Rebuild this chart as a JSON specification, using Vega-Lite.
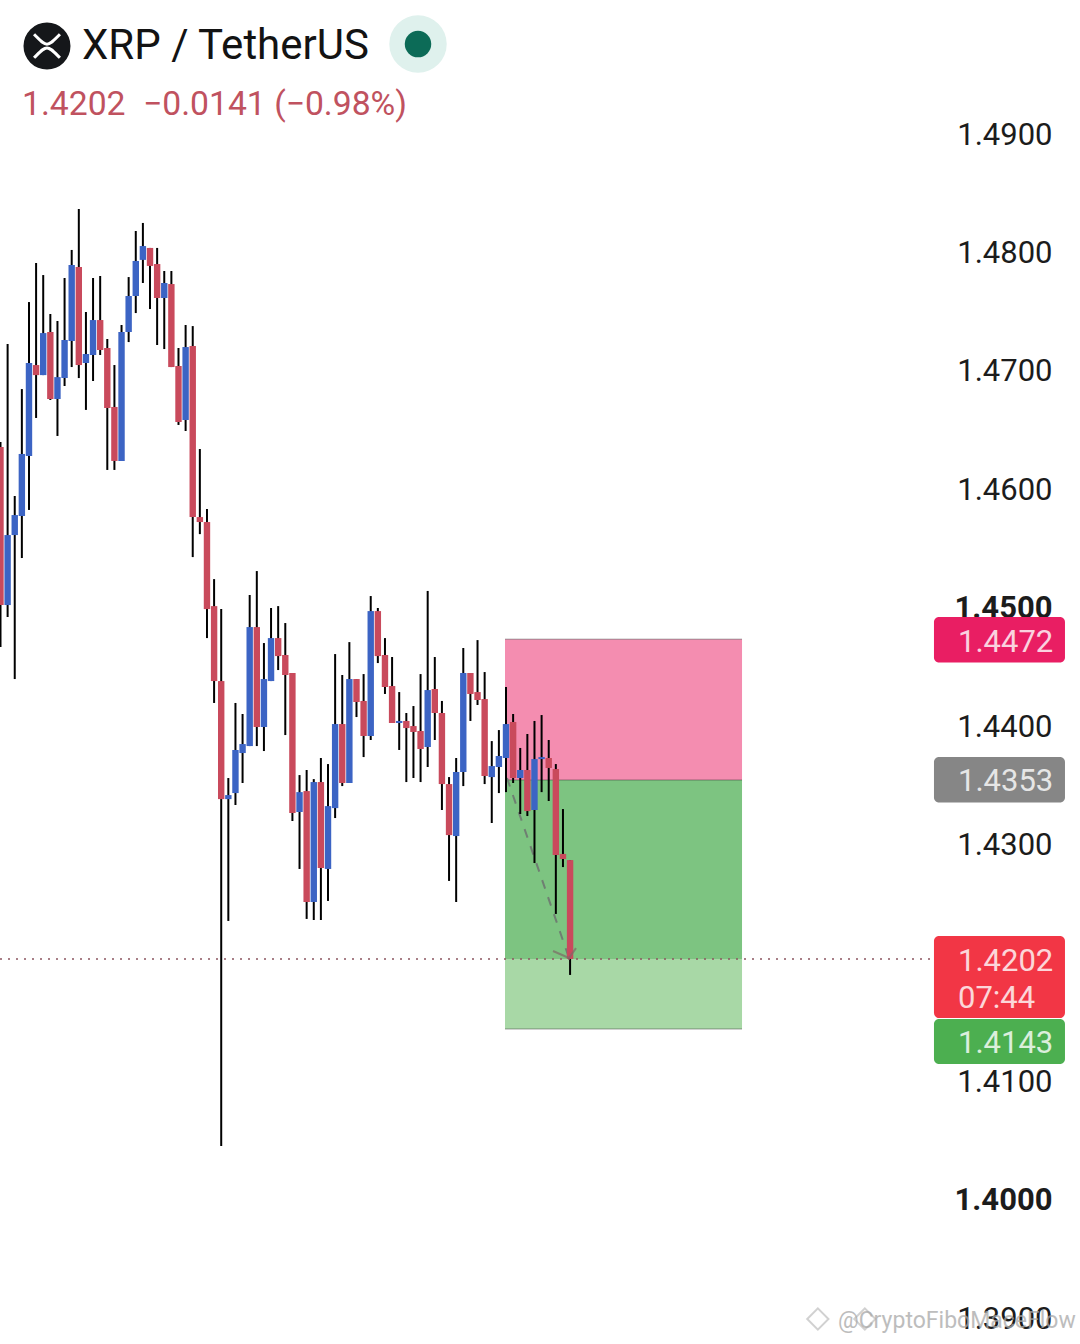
{
  "$schema": "https://vega.github.io/schema/vega-lite/v6.json",
  "background": "#ffffff",
  "width": 1080,
  "height": 1344,
  "padding": 0,
  "autosize": {"type": "none"},
  "datasets": {
    "candles": [
      {"i":0,"o":1.46357,"h":1.46399,"l":1.44667,"c":1.45022,"kind":"down"},
      {"i":1,"o":1.45022,"h":1.47226,"l":1.4492,"c":1.45613,"kind":"up"},
      {"i":2,"o":1.45613,"h":1.45943,"l":1.44397,"c":1.45782,"kind":"up"},
      {"i":3,"o":1.45774,"h":1.46846,"l":1.45419,"c":1.46298,"kind":"up"},
      {"i":4,"o":1.46281,"h":1.47581,"l":1.45825,"c":1.47066,"kind":"up"},
      {"i":5,"o":1.47049,"h":1.47911,"l":1.46602,"c":1.46964,"kind":"down"},
      {"i":6,"o":1.46964,"h":1.47809,"l":1.46964,"c":1.47319,"kind":"up"},
      {"i":7,"o":1.47328,"h":1.4748,"l":1.46754,"c":1.46762,"kind":"down"},
      {"i":8,"o":1.46762,"h":1.47421,"l":1.4645,"c":1.46947,"kind":"up"},
      {"i":9,"o":1.46939,"h":1.47784,"l":1.46872,"c":1.4726,"kind":"up"},
      {"i":10,"o":1.47252,"h":1.48021,"l":1.47032,"c":1.47894,"kind":"up"},
      {"i":11,"o":1.47877,"h":1.48367,"l":1.46939,"c":1.47049,"kind":"down"},
      {"i":12,"o":1.47066,"h":1.47497,"l":1.4667,"c":1.47142,"kind":"up"},
      {"i":13,"o":1.47134,"h":1.47784,"l":1.46914,"c":1.47429,"kind":"up"},
      {"i":14,"o":1.47429,"h":1.47801,"l":1.47134,"c":1.47176,"kind":"down"},
      {"i":15,"o":1.47193,"h":1.47269,"l":1.46163,"c":1.46686,"kind":"down"},
      {"i":16,"o":1.46695,"h":1.47049,"l":1.46163,"c":1.46239,"kind":"down"},
      {"i":17,"o":1.46239,"h":1.47387,"l":1.46239,"c":1.47328,"kind":"up"},
      {"i":18,"o":1.47328,"h":1.47792,"l":1.47243,"c":1.47632,"kind":"up"},
      {"i":19,"o":1.47632,"h":1.48181,"l":1.47488,"c":1.47928,"kind":"up"},
      {"i":20,"o":1.47937,"h":1.48249,"l":1.47742,"c":1.48054,"kind":"up"},
      {"i":21,"o":1.48038,"h":1.48038,"l":1.47522,"c":1.47886,"kind":"down"},
      {"i":22,"o":1.47902,"h":1.48038,"l":1.47218,"c":1.47615,"kind":"down"},
      {"i":23,"o":1.47615,"h":1.47843,"l":1.47184,"c":1.47742,"kind":"up"},
      {"i":24,"o":1.47733,"h":1.47843,"l":1.47032,"c":1.47032,"kind":"down"},
      {"i":25,"o":1.47041,"h":1.47193,"l":1.46543,"c":1.46568,"kind":"down"},
      {"i":26,"o":1.46585,"h":1.47387,"l":1.46492,"c":1.47201,"kind":"up"},
      {"i":27,"o":1.4721,"h":1.47378,"l":1.45427,"c":1.45765,"kind":"down"},
      {"i":28,"o":1.45765,"h":1.4634,"l":1.45621,"c":1.45723,"kind":"down"},
      {"i":29,"o":1.45723,"h":1.45833,"l":1.44743,"c":1.44988,"kind":"down"},
      {"i":30,"o":1.45013,"h":1.45241,"l":1.44195,"c":1.4438,"kind":"down"},
      {"i":31,"o":1.4438,"h":1.44988,"l":1.40453,"c":1.43383,"kind":"down"},
      {"i":32,"o":1.43383,"h":1.43561,"l":1.42354,"c":1.43417,"kind":"up"},
      {"i":33,"o":1.43434,"h":1.44195,"l":1.43333,"c":1.43798,"kind":"up"},
      {"i":34,"o":1.43772,"h":1.44102,"l":1.43519,"c":1.43848,"kind":"up"},
      {"i":35,"o":1.43831,"h":1.45107,"l":1.43831,"c":1.44836,"kind":"up"},
      {"i":36,"o":1.44836,"h":1.45309,"l":1.43831,"c":1.43992,"kind":"down"},
      {"i":37,"o":1.43992,"h":1.44701,"l":1.43789,"c":1.44397,"kind":"up"},
      {"i":38,"o":1.4438,"h":1.44997,"l":1.4438,"c":1.44743,"kind":"up"},
      {"i":39,"o":1.44743,"h":1.45013,"l":1.44473,"c":1.44591,"kind":"down"},
      {"i":40,"o":1.446,"h":1.4487,"l":1.43924,"c":1.44431,"kind":"down"},
      {"i":41,"o":1.44448,"h":1.44448,"l":1.43198,"c":1.43265,"kind":"down"},
      {"i":42,"o":1.43274,"h":1.43586,"l":1.42793,"c":1.43442,"kind":"up"},
      {"i":43,"o":1.43451,"h":1.43629,"l":1.42371,"c":1.42514,"kind":"down"},
      {"i":44,"o":1.42514,"h":1.43552,"l":1.42362,"c":1.43527,"kind":"up"},
      {"i":45,"o":1.43527,"h":1.4373,"l":1.42362,"c":1.42801,"kind":"down"},
      {"i":46,"o":1.42793,"h":1.43679,"l":1.42523,"c":1.43324,"kind":"up"},
      {"i":47,"o":1.43307,"h":1.44608,"l":1.43223,"c":1.44017,"kind":"up"},
      {"i":48,"o":1.44017,"h":1.44431,"l":1.43493,"c":1.43519,"kind":"down"},
      {"i":49,"o":1.43519,"h":1.44709,"l":1.43519,"c":1.44397,"kind":"up"},
      {"i":50,"o":1.44397,"h":1.44397,"l":1.44076,"c":1.44203,"kind":"down"},
      {"i":51,"o":1.44212,"h":1.44439,"l":1.43738,"c":1.43916,"kind":"down"},
      {"i":52,"o":1.43916,"h":1.45098,"l":1.43882,"c":1.44971,"kind":"up"},
      {"i":53,"o":1.44971,"h":1.44997,"l":1.44532,"c":1.44591,"kind":"down"},
      {"i":54,"o":1.446,"h":1.44743,"l":1.44271,"c":1.4433,"kind":"down"},
      {"i":55,"o":1.44338,"h":1.44583,"l":1.44026,"c":1.44026,"kind":"down"},
      {"i":56,"o":1.44026,"h":1.44287,"l":1.43798,"c":1.44043,"kind":"up"},
      {"i":57,"o":1.44043,"h":1.4411,"l":1.43527,"c":1.43983,"kind":"down"},
      {"i":58,"o":1.44,"h":1.44169,"l":1.43561,"c":1.4395,"kind":"down"},
      {"i":59,"o":1.43958,"h":1.44439,"l":1.43527,"c":1.43806,"kind":"down"},
      {"i":60,"o":1.43823,"h":1.45141,"l":1.43654,"c":1.44304,"kind":"up"},
      {"i":61,"o":1.44313,"h":1.44583,"l":1.43882,"c":1.4411,"kind":"down"},
      {"i":62,"o":1.4411,"h":1.44212,"l":1.43291,"c":1.4351,"kind":"down"},
      {"i":63,"o":1.4351,"h":1.43569,"l":1.42692,"c":1.43079,"kind":"down"},
      {"i":64,"o":1.43071,"h":1.4373,"l":1.42514,"c":1.43612,"kind":"up"},
      {"i":65,"o":1.43612,"h":1.44659,"l":1.43493,"c":1.44448,"kind":"up"},
      {"i":66,"o":1.44448,"h":1.44448,"l":1.44043,"c":1.44271,"kind":"down"},
      {"i":67,"o":1.44287,"h":1.44726,"l":1.44178,"c":1.4422,"kind":"down"},
      {"i":68,"o":1.44228,"h":1.44456,"l":1.4351,"c":1.43578,"kind":"down"},
      {"i":69,"o":1.43569,"h":1.43873,"l":1.43181,"c":1.43662,"kind":"up"},
      {"i":70,"o":1.43654,"h":1.43966,"l":1.43434,"c":1.43747,"kind":"up"},
      {"i":71,"o":1.4373,"h":1.4433,"l":1.43442,"c":1.44017,"kind":"up"},
      {"i":72,"o":1.44034,"h":1.44102,"l":1.43519,"c":1.43561,"kind":"down"},
      {"i":73,"o":1.43561,"h":1.43815,"l":1.43257,"c":1.43629,"kind":"up"},
      {"i":74,"o":1.43629,"h":1.43933,"l":1.4324,"c":1.43282,"kind":"down"},
      {"i":75,"o":1.43291,"h":1.44043,"l":1.42843,"c":1.43721,"kind":"up"},
      {"i":76,"o":1.43721,"h":1.44093,"l":1.43442,"c":1.43738,"kind":"up"},
      {"i":77,"o":1.4373,"h":1.43882,"l":1.43367,"c":1.43646,"kind":"down"},
      {"i":78,"o":1.43637,"h":1.43679,"l":1.42413,"c":1.42911,"kind":"down"},
      {"i":79,"o":1.4292,"h":1.43299,"l":1.42809,"c":1.42877,"kind":"down"},
      {"i":80,"o":1.42868,"h":1.42868,"l":1.41898,"c":1.42033,"kind":"down"}
    ],
    "zones": [
      {"i":70.86,"i2":104.15,"p":1.44734,"p2":1.43544,"kind":"risk"},
      {"i":70.86,"i2":104.15,"p":1.43544,"p2":1.42033,"kind":"reward"},
      {"i":70.86,"i2":104.15,"p":1.42033,"p2":1.41441,"kind":"rest"}
    ],
    "zonelines": [
      {"i":70.86,"i2":104.15,"p":1.44734},
      {"i":70.86,"i2":104.15,"p":1.43544},
      {"i":70.86,"i2":104.15,"p":1.41441}
    ],
    "tags": [
      {"i":131.11,"i2":149.51,"p":1.4492,"p2":1.44536,"kind":"entrytag"},
      {"i":131.11,"i2":149.51,"p":1.43738,"p2":1.43354,"kind":"greytag"},
      {"i":131.11,"i2":149.51,"p":1.42227,"p2":1.41534,"kind":"pricetag"},
      {"i":131.11,"i2":149.51,"p":1.41526,"p2":1.41145,"kind":"targettag"}
    ],
    "tagtext": [
      {"i":134.48,"p":1.44718,"label":"1.4472"},
      {"i":134.48,"p":1.43544,"label":"1.4353"},
      {"i":134.48,"p":1.42024,"label":"1.4202"},
      {"i":134.48,"p":1.41711,"label":"07:44"},
      {"i":134.48,"p":1.41331,"label":"1.4143"}
    ],
    "arrow": [
      {"i":71.14,"i2":79.85,"p":1.43561,"p2":1.42041}
    ],
    "arrowhead": [
      {"i":77.6,"i2":79.85,"p":1.421,"p2":1.42041},
      {"i":80.83,"i2":79.85,"p":1.42125,"p2":1.42041}
    ],
    "lastprice": [
      {"i":-0.07,"i2":130.83,"p":1.42033}
    ]
  },
  "encoding": {
    "color": {
      "field": "kind",
      "type": "nominal",
      "legend": null,
      "scale": {
        "domain": ["up","down","risk","reward","rest","entrytag","greytag","pricetag","targettag"],
        "range": ["#3c64c4","#c94a5c","#f48db0","#7dc481","#a8d8a6","#e91e63","#868686","#f23645","#4caf50"]
      }
    }
  },
  "layer": [
    {
      "data": {"name": "zones"},
      "mark": {"type": "rect"},
      "encoding": {
        "x": {"field": "i", "type": "quantitative", "axis": null, "scale": {"domain": [-0.07,151.62], "nice": false, "zero": false}},
        "x2": {"field": "i2"},
        "y": {
          "field": "p",
          "type": "quantitative",
          "scale": {"domain": [1.38781,1.50132], "nice": false, "zero": false},
          "axis": {
            "orient": "right",
            "title": null,
            "domain": false,
            "ticks": false,
            "grid": false,
            "values": [1.49,1.48,1.47,1.46,1.45,1.44,1.43,1.41,1.40,1.39],
            "format": ".4f",
            "labelFont": "Roboto",
            "labelFontSize": 31,
            "labelColor": "#1c1c1c",
            "labelAlign": "right",
            "labelPadding": -28,
            "labelOffset": 1,
            "labelOverlap": false,
            "labelBound": false,
            "labelFontWeight": {"condition": {"test": "datum.value == 1.45 || datum.value == 1.40", "value": "bold"}, "value": "normal"}
          }
        },
        "y2": {"field": "p2"}
      }
    },
    {
      "data": {"name": "zonelines"},
      "mark": {"type": "rule", "strokeWidth": 1.5, "opacity": 0.3},
      "encoding": {
        "color": {"value": "#303030"},
        "x": {"field": "i", "type": "quantitative", "axis": null, "scale": {"domain": [-0.07,151.62], "nice": false, "zero": false}},
        "x2": {"field": "i2"},
        "y": {"field": "p", "type": "quantitative", "scale": {"domain": [1.38781,1.50132], "nice": false, "zero": false}}
      }
    },
    {
      "data": {"name": "arrow"},
      "mark": {"type": "rule", "strokeWidth": 2, "strokeDash": [9,9]},
      "encoding": {
        "color": {"value": "#6f7f72"},
        "x": {"field": "i", "type": "quantitative", "axis": null, "scale": {"domain": [-0.07,151.62], "nice": false, "zero": false}},
        "x2": {"field": "i2"},
        "y": {"field": "p", "type": "quantitative", "scale": {"domain": [1.38781,1.50132], "nice": false, "zero": false}},
        "y2": {"field": "p2"}
      }
    },
    {
      "data": {"name": "candles"},
      "mark": {"type": "rule", "strokeWidth": 2},
      "encoding": {
        "color": {"value": "#000000"},
        "x": {"field": "i", "type": "quantitative", "axis": null, "scale": {"domain": [-0.07,151.62], "nice": false, "zero": false}},
        "y": {"field": "h", "type": "quantitative", "scale": {"domain": [1.38781,1.50132], "nice": false, "zero": false}},
        "y2": {"field": "l"}
      }
    },
    {
      "data": {"name": "candles"},
      "mark": {"type": "bar", "width": 6.4},
      "encoding": {
        "x": {"field": "i", "type": "quantitative", "axis": null, "scale": {"domain": [-0.07,151.62], "nice": false, "zero": false}},
        "y": {"field": "o", "type": "quantitative", "scale": {"domain": [1.38781,1.50132], "nice": false, "zero": false}},
        "y2": {"field": "c"}
      }
    },
    {
      "data": {"name": "arrowhead"},
      "mark": {"type": "rule", "strokeWidth": 2, "opacity": 0.7},
      "encoding": {
        "color": {"value": "#7d6a66"},
        "x": {"field": "i", "type": "quantitative", "axis": null, "scale": {"domain": [-0.07,151.62], "nice": false, "zero": false}},
        "x2": {"field": "i2"},
        "y": {"field": "p", "type": "quantitative", "scale": {"domain": [1.38781,1.50132], "nice": false, "zero": false}},
        "y2": {"field": "p2"}
      }
    },
    {
      "data": {"name": "lastprice"},
      "mark": {"type": "rule", "strokeWidth": 1.6, "strokeDash": [2,6]},
      "encoding": {
        "color": {"value": "#8c5560"},
        "x": {"field": "i", "type": "quantitative", "axis": null, "scale": {"domain": [-0.07,151.62], "nice": false, "zero": false}},
        "x2": {"field": "i2"},
        "y": {"field": "p", "type": "quantitative", "scale": {"domain": [1.38781,1.50132], "nice": false, "zero": false}}
      }
    },
    {
      "data": {"name": "tags"},
      "mark": {"type": "rect", "cornerRadius": 5},
      "encoding": {
        "x": {"field": "i", "type": "quantitative", "axis": null, "scale": {"domain": [-0.07,151.62], "nice": false, "zero": false}},
        "x2": {"field": "i2"},
        "y": {"field": "p", "type": "quantitative", "scale": {"domain": [1.38781,1.50132], "nice": false, "zero": false}},
        "y2": {"field": "p2"}
      }
    },
    {
      "data": {"name": "tagtext"},
      "mark": {"type": "text", "font": "Roboto", "fontSize": 31, "align": "left", "baseline": "middle", "dy": 2, "opacity": 0.8},
      "encoding": {
        "color": {"value": "#ffffff"},
        "x": {"field": "i", "type": "quantitative", "axis": null, "scale": {"domain": [-0.07,151.62], "nice": false, "zero": false}},
        "y": {"field": "p", "type": "quantitative", "scale": {"domain": [1.38781,1.50132], "nice": false, "zero": false}},
        "text": {"field": "label"}
      }
    },
    {
      "data": {"values": [{"i":11.45,"p":1.4976,"label":"XRP / TetherUS"}]},
      "mark": {"type": "text", "font": "Roboto", "fontSize": 42, "align": "left", "baseline": "middle", "dy": 2},
      "encoding": {
        "color": {"value": "#131313"},
        "x": {"field": "i", "type": "quantitative", "axis": null, "scale": {"domain": [-0.07,151.62], "nice": false, "zero": false}},
        "y": {"field": "p", "type": "quantitative", "scale": {"domain": [1.38781,1.50132], "nice": false, "zero": false}},
        "text": {"field": "label"}
      }
    },
    {
      "data": {"values": [{"i":3.02,"p":1.49262,"label":"1.4202"},{"i":20.01,"p":1.49262,"label":"−0.0141 (−0.98%)"}]},
      "mark": {"type": "text", "font": "Roboto", "fontSize": 33.7, "align": "left", "baseline": "middle", "dy": 2},
      "encoding": {
        "color": {"value": "#c0525f"},
        "x": {"field": "i", "type": "quantitative", "axis": null, "scale": {"domain": [-0.07,151.62], "nice": false, "zero": false}},
        "y": {"field": "p", "type": "quantitative", "scale": {"domain": [1.38781,1.50132], "nice": false, "zero": false}},
        "text": {"field": "label"}
      }
    },
    {
      "data": {"values": [{"i":6.53,"p":1.49743}]},
      "mark": {"type": "point", "shape": "circle", "filled": true, "size": 2209, "opacity": 1},
      "encoding": {
        "color": {"value": "#15171a"},
        "x": {"field": "i", "type": "quantitative", "axis": null, "scale": {"domain": [-0.07,151.62], "nice": false, "zero": false}},
        "y": {"field": "p", "type": "quantitative", "scale": {"domain": [1.38781,1.50132], "nice": false, "zero": false}}
      }
    },
    {
      "data": {"values": [{"i":6.53,"p":1.49743}]},
      "mark": {
        "type": "point",
        "shape": "M-0.55,-0.5 C-0.25,-0.2 -0.15,-0.08 0,-0.08 C0.15,-0.08 0.25,-0.2 0.55,-0.5 M-0.55,0.5 C-0.25,0.2 -0.15,0.08 0,0.08 C0.15,0.08 0.25,0.2 0.55,0.5",
        "filled": false,
        "size": 2209,
        "strokeWidth": 3,
        "opacity": 1
      },
      "encoding": {
        "color": {"value": "#ffffff"},
        "x": {"field": "i", "type": "quantitative", "axis": null, "scale": {"domain": [-0.07,151.62], "nice": false, "zero": false}},
        "y": {"field": "p", "type": "quantitative", "scale": {"domain": [1.38781,1.50132], "nice": false, "zero": false}}
      }
    },
    {
      "data": {"values": [{"i":58.64,"p":1.4976}]},
      "mark": {"type": "point", "shape": "circle", "filled": true, "size": 3300, "opacity": 1},
      "encoding": {
        "color": {"value": "#dff1ed"},
        "x": {"field": "i", "type": "quantitative", "axis": null, "scale": {"domain": [-0.07,151.62], "nice": false, "zero": false}},
        "y": {"field": "p", "type": "quantitative", "scale": {"domain": [1.38781,1.50132], "nice": false, "zero": false}}
      }
    },
    {
      "data": {"values": [{"i":58.64,"p":1.4976}]},
      "mark": {"type": "point", "shape": "circle", "filled": true, "size": 700, "opacity": 1},
      "encoding": {
        "color": {"value": "#0c6b57"},
        "x": {"field": "i", "type": "quantitative", "axis": null, "scale": {"domain": [-0.07,151.62], "nice": false, "zero": false}},
        "y": {"field": "p", "type": "quantitative", "scale": {"domain": [1.38781,1.50132], "nice": false, "zero": false}}
      }
    },
    {
      "data": {"values": [{"i":114.8,"p":1.38992},{"i":121.4,"p":1.38992}]},
      "mark": {"type": "point", "shape": "diamond", "filled": false, "size": 450, "strokeWidth": 2, "opacity": 0.6},
      "encoding": {
        "color": {"value": "#b4b4b4"},
        "x": {"field": "i", "type": "quantitative", "axis": null, "scale": {"domain": [-0.07,151.62], "nice": false, "zero": false}},
        "y": {"field": "p", "type": "quantitative", "scale": {"domain": [1.38781,1.50132], "nice": false, "zero": false}}
      }
    },
    {
      "data": {"values": [{"i":117.63,"p":1.38992,"label":"@CryptoFiboMaceFlow"}]},
      "mark": {"type": "text", "font": "Roboto", "fontSize": 23, "align": "left", "baseline": "middle", "dy": 2, "opacity": 0.75},
      "encoding": {
        "color": {"value": "#a8a8a8"},
        "x": {"field": "i", "type": "quantitative", "axis": null, "scale": {"domain": [-0.07,151.62], "nice": false, "zero": false}},
        "y": {"field": "p", "type": "quantitative", "scale": {"domain": [1.38781,1.50132], "nice": false, "zero": false}},
        "text": {"field": "label"}
      }
    }
  ],
  "config": {"view": {"stroke": null}, "scale": {"continuousPadding": 0}}
}
